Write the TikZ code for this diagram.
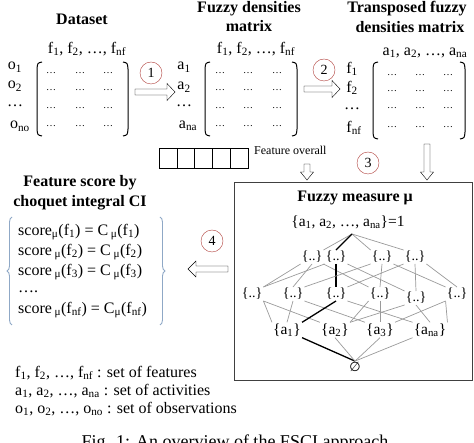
\documentclass[tikz,border=0pt]{standalone}
\usepackage{fontspec}
\setmainfont{Liberation Serif}
\newfontfamily\djv{DejaVu Sans}
\usetikzlibrary{decorations.pathreplacing}
\newcommand{\sbs}[1]{\textsubscript{#1}}
\definecolor{circred}{HTML}{B0403C}
\definecolor{bracecol}{HTML}{8FA8C6}
\definecolor{latgray}{HTML}{9A9A9A}
\newcommand{\lbrk}[3]{\draw[brk] (#1+5,#2) .. controls (#1+0.5,#2+1) .. (#1,#2+7) -- (#1,#3-7) .. controls (#1+0.5,#3-1) .. (#1+5,#3);}
\newcommand{\rbrk}[3]{\draw[brk] (#1-5,#2) .. controls (#1-0.5,#2+1) .. (#1,#2+7) -- (#1,#3-7) .. controls (#1-0.5,#3-1) .. (#1-5,#3);}
% block arrow: name, x, y, angle, length, shaft width, head width, head length
\newcommand{\blockarr}[8]{%
  \begin{scope}[shift={(#2,#3)}, rotate=#4]
    \coordinate (#1) at (0,0);
    \draw[thin, fill=white] (-#5/2,#6/2) -- (#5/2-#8,#6/2) -- (#5/2-#8,#7/2) -- (#5/2,0)
      -- (#5/2-#8,-#7/2) -- (#5/2-#8,-#6/2) -- (-#5/2,-#6/2) -- cycle;
  \end{scope}}
\begin{document}
\begin{tikzpicture}[x=1pt,y=-1pt,
  txt/.style={inner sep=0pt, font=\fontsize{16}{18}\selectfont},
  big/.style={inner sep=0pt, font=\fontsize{16}{18}\selectfont},
  head/.style={inner sep=0pt, font=\fontsize{16}{18}\selectfont\bfseries},
  cell/.style={inner sep=0pt, font=\fontsize{10}{12}\selectfont},
  num/.style={circle, draw=circred, thin, minimum size=22pt, inner sep=0pt, font=\fontsize{14}{16}\selectfont},
  brk/.style={line width=1pt},
  lat/.style={inner sep=1pt, font=\fontsize{14}{16}\selectfont},
  lata/.style={inner sep=1pt, font=\fontsize{15.5}{17}\selectfont},
  ln/.style={draw=latgray, line width=0.7pt},
  thk/.style={draw=black, line width=1.3pt},
  cellbox/.style={draw, minimum width=17.8pt, minimum height=20pt, inner sep=0pt}
]
\useasboundingbox (0,0) rectangle (474,443);

% ---------- Matrix 1: Dataset
\node[head] (h1) at (82,19) {Dataset};
\node[txt] (c1) at (87,49) {f\sbs{1}, f\sbs{2}, …, f\sbs{nf}};
\node[txt] (r11) at (15,67) {o\sbs{1}};
\node[txt] (r12) at (15,86) {o\sbs{2}};
\node[txt] (r13) at (15,106) {…};
\node[txt] (r14) at (20,126) {o\sbs{no}};
\lbrk{37}{62}{136}
\rbrk{128}{62}{136}
\foreach \yy [count=\i] in {73,90,108,126}{
  \foreach \xx [count=\j] in {51,80,108}{
    \node[cell] (ma\i\j) at (\xx,\yy) {…};
  }
}

% ---------- Matrix 2: Fuzzy densities
\node[head] (h2a) at (249,9) {Fuzzy densities};
\node[head] (h2b) at (249,26) {matrix};
\node[txt] (c2) at (256,49) {f\sbs{1}, f\sbs{2}, …, f\sbs{nf}};
\node[txt] (r21) at (184,67) {a\sbs{1}};
\node[txt] (r22) at (184,87) {a\sbs{2}};
\node[txt] (r23) at (184,106) {…};
\node[txt] (r24) at (188,126) {a\sbs{na}};
\lbrk{205}{62}{136}
\rbrk{297}{62}{136}
\foreach \yy [count=\i] in {73,90,108,126}{
  \foreach \xx [count=\j] in {220,248,277}{
    \node[cell] (mb\i\j) at (\xx,\yy) {…};
  }
}

% ---------- Matrix 3: Transposed
\node[head] (h3a) at (407,9) {Transposed fuzzy};
\node[head] (h3b) at (410,27) {densities matrix};
\node[txt] (c3) at (425,53) {a\sbs{1}, a\sbs{2}, …, a\sbs{na}};
\node[txt] (r31) at (352,69) {f\sbs{1}};
\node[txt] (r32) at (352,88) {f\sbs{2}};
\node[txt] (r33) at (352,109) {…};
\node[txt] (r34) at (354,128) {f\sbs{nf}};
\lbrk{373}{62}{139}
\rbrk{465}{62}{139}
\foreach \yy [count=\i] in {75,91,108,127}{
  \foreach \xx [count=\j] in {392,420,448}{
    \node[cell] (mc\i\j) at (\xx,\yy) {…};
  }
}

% ---------- step circles and block arrows
\node[num] (n1) at (151,73) {1};
\node[num] (n2) at (324,70) {2};
\node[num] (n3) at (368,163) {3};
\node[num] (n4) at (212,241) {4};
\blockarr{ar1}{155}{92}{0}{40}{6}{17}{8}
\blockarr{ar2}{322}{89}{0}{36}{6}{17}{8}
\blockarr{ar3}{307}{172}{270}{16}{6}{13}{8}
\blockarr{ar4}{427}{162}{270}{36}{6}{13}{8}
\blockarr{ar5}{208}{269}{180}{40}{6}{16}{8}

% ---------- feature overall vector
\foreach \i in {0,...,4}{
  \node[cellbox] (v\i) at (167.9+17.8*\i,158) {};
}
\node[inner sep=0pt, font=\fontsize{12}{14}\selectfont, anchor=west] (fo) at (254,150) {Feature overall};

% ---------- Fuzzy measure box
\node[draw=black!75, line width=1pt, minimum width=238pt, minimum height=198pt, inner sep=0pt] (fm) at (353,282) {};
\node[head] (fmt) at (355,198) {Fuzzy measure μ};
\node[lata, inner sep=0pt] (top) at (348,222) {\{a\sbs{1}, a\sbs{2}, …, a\sbs{na}\}=1};
\coordinate (ap) at (352,234);
\node[lat] (A) at (312,257) {\{..\}};
\node[lat] (B) at (336,257) {\{..\}};
\node[lat] (C) at (382,257) {\{..\}};
\node[lat] (D) at (415,257) {\{..\}};
\node[lat] (E) at (252,294) {\{..\}};
\node[lat] (F) at (293,294) {\{..\}};
\node[lat] (G) at (336,294) {\{..\}};
\node[lat] (H) at (380,294) {\{..\}};
\node[lat] (I) at (416,298) {\{..\}};
\node[lat] (J) at (457,294) {\{..\}};
\node[lata] (a1) at (287,330) {\{a\sbs{1}\}};
\node[lata] (a2) at (335,330) {\{a\sbs{2}\}};
\node[lata] (a3) at (380,330) {\{a\sbs{3}\}};
\node[lata] (an) at (430,330) {\{a\sbs{na}\}};
\node[lat, font=\djv\fontsize{13}{15}\selectfont] (emp) at (355,367) {∅};

\draw[ln] (ap) -- (A.north east);
\draw[ln] (ap) -- (C.north west);
\draw[ln] (ap) -- (D.north west);
\draw[thk] (ap) -- (B.north);
\draw[ln] (A.south west) -- (E.north east);
\draw[ln] (A.south) -- (F.north);
\draw[ln] (A.south east) -- (H.north west);
\draw[ln] (B.south west) -- (E.north east);
\draw[ln] (B.south east) -- (I.north west);
\draw[thk] (B.south) -- (G.north);
\draw[ln] (C.south west) -- (F.north east);
\draw[ln] (C.south) -- (H.north);
\draw[ln] (C.south east) -- (J.north west);
\draw[ln] (D.south west) -- (G.north east);
\draw[ln] (D.south) -- (I.north);
\draw[ln] (D.south east) -- (J.north);
\draw[ln] (E.south east) -- (a1.north west);
\draw[ln] (E.south east) -- (a2.north west);
\draw[ln] (F.south) -- (a1.north);
\draw[ln] (F.south east) -- (a3.north west);
\draw[thk] (G.south) -- (a1.north east);
\draw[ln] (G.south east) -- (an.north west);
\draw[ln] (H.south west) -- (a2.north east);
\draw[ln] (H.south) -- (a3.north);
\draw[ln] (I.south west) -- (a2.north east);
\draw[ln] (I.south) -- (an.north);
\draw[ln] (J.south west) -- (a3.north east);
\draw[ln] (J.south west) -- (an.north east);
\draw[thk] (a1.south east) -- (emp.north);
\draw[ln] (a2.south) -- (emp.north);
\draw[ln] (a3.south) -- (emp.north);
\draw[ln] (an.south west) -- (emp.north);

% ---------- Feature score
\node[head] (h4a) at (80,183) {Feature score by};
\node[head] (h4b) at (80,203) {choquet integral CI};
\draw[bracecol, line width=0.9pt, decorate, decoration={brace, amplitude=5pt}] (12,325) -- (12,217);
\draw[bracecol, line width=0.9pt, decorate, decoration={brace, amplitude=5pt}] (160,217) -- (160,325);
\node[big, anchor=west] (s1) at (18,232) {score\sbs{μ}(f\sbs{1}) = C\,\sbs{μ}(f\sbs{1})};
\node[big, anchor=west] (s2) at (18,252) {score\,\sbs{μ}(f\sbs{2}) = C\,\sbs{μ}(f\sbs{2})};
\node[big, anchor=west] (s3) at (18,272) {score\,\sbs{μ}(f\sbs{3}) = C\,\sbs{μ}(f\sbs{3})};
\node[big, anchor=west] (s4) at (18,292) {….};
\node[big, anchor=west] (s5) at (18,310) {score\,\sbs{μ}(f\sbs{nf}) = C\sbs{μ}(f\sbs{nf})};

% ---------- legend
\node[big, anchor=west] (l1) at (15,373) {f\sbs{1}, f\sbs{2}, …, f\sbs{nf} : set of features};
\node[big, anchor=west] (l2) at (15,391) {a\sbs{1}, a\sbs{2}, …, a\sbs{na} : set of activities};
\node[big, anchor=west] (l3) at (15,409) {o\sbs{1}, o\sbs{2}, …, o\sbs{no} : set of observations};

% ---------- caption (cut by the lower edge)
\node[inner sep=0pt, anchor=base, font=\fontsize{18}{20}\selectfont] (cap) at (235,448) {Fig. 1: An overview of the FSCI approach};
\end{tikzpicture}
\end{document}
